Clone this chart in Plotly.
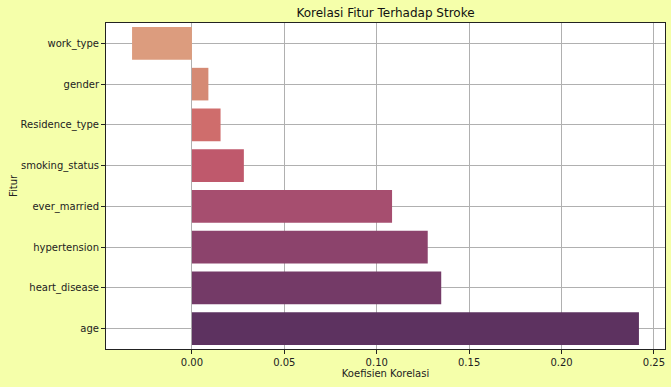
import plotly.graph_objects as go

features = ["work_type", "gender", "Residence_type", "smoking_status",
            "ever_married", "hypertension", "heart_disease", "age"]
corr = [-0.0324, 0.0089, 0.0155, 0.0281, 0.1083, 0.1276, 0.1349, 0.2419]
colors = ["#dc9c7e", "#d58a74", "#cf6d6c", "#bf596c", "#a64e6f",
          "#8c436c", "#743a67", "#5d3260"]
xticks = [0.0, 0.05, 0.10, 0.15, 0.20, 0.25]
xtick_labels = ["0.00", "0.05", "0.10", "0.15", "0.20", "0.25"]

fig = go.Figure(go.Bar(
    x=corr, y=features, orientation="h",
    marker=dict(color=colors, line=dict(width=0)),
    width=0.8,
))

font = "DejaVu Sans"
fig.update_layout(
    width=671, height=387,
    paper_bgcolor="#f5ffaa",
    plot_bgcolor="white",
    margin=dict(l=106, r=6, t=23, b=38, autoexpand=False),
    font=dict(family=font, size=10, color="#222"),
    title=dict(text="Korelasi Fitur Terhadap Stroke", x=0.5, xref="paper", xanchor="center",
               y=1 - 13 / 387, yref="container", yanchor="middle",
               font=dict(size=12, family=font, color="#111")),
    showlegend=False,
    bargap=0.2,
)
fig.update_xaxes(
    range=[-0.0465, 0.256],
    tickvals=xticks, ticktext=xtick_labels,
    showgrid=True, gridcolor="#b0b0b0", gridwidth=1,
    zeroline=False,
    showline=True, linecolor="#222", linewidth=1, mirror=True,
    ticks="outside", ticklen=4, tickcolor="#222",
    layer="above traces", automargin=False,
    title=dict(text="Koefisien Korelasi", standoff=2, font=dict(size=10)),
)
fig.update_yaxes(
    autorange="reversed",
    showgrid=True, gridcolor="#b0b0b0", gridwidth=1,
    showline=True, linecolor="#222", linewidth=1, mirror=True,
    ticks="outside", ticklen=4, tickcolor="#222",
    layer="above traces", automargin=False,
    title=dict(text="Fitur", standoff=1, font=dict(size=10)),
)
fig.write_html("out.html", config={"displayModeBar": False},
               post_script="document.body.style.margin='0';document.body.style.background='#f5ffaa';")
